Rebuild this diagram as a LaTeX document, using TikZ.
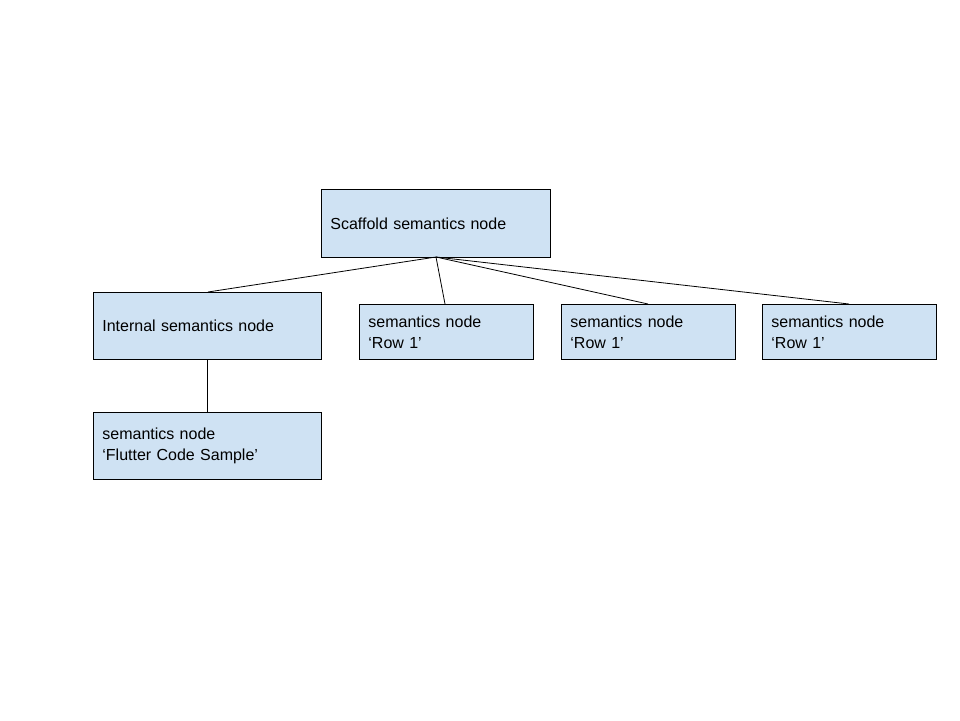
\documentclass[tikz,border=0pt]{standalone}
\usepackage{fontspec}
\setmainfont{Liberation Sans}
\begin{document}
\begin{tikzpicture}[x=1pt,y=-1pt,
  box/.style={draw=black,fill=boxblue,line width=0.8pt,anchor=north west,inner xsep=9pt,inner ysep=0pt,align=left,font=\fontsize{16}{21}\selectfont},
  link/.style={draw=black,line width=0.8pt}]
\definecolor{boxblue}{HTML}{CFE2F3}
\useasboundingbox (0,0) rectangle (960,720);
\node[box,text width=211pt,minimum height=68pt] (s) at (321,189) {Scaffold semantics node};
\node[box,text width=210pt,minimum height=67pt] (i) at (93,292) {Internal semantics node};
\node[box,text width=156pt,minimum height=55pt] (r1) at (359,304) {semantics node\\‘Row 1’};
\node[box,text width=156pt,minimum height=55pt] (r2) at (561,304) {semantics node\\‘Row 1’};
\node[box,text width=156pt,minimum height=55pt] (r3) at (762,304) {semantics node\\‘Row 1’};
\node[box,text width=210pt,minimum height=67pt] (f) at (93,412) {semantics node\\‘Flutter Code Sample’};
\coordinate (sb) at (436,257);
\draw[link] (sb) -- (208,292);
\draw[link] (sb) -- (445,304);
\draw[link] (sb) -- (648,304);
\draw[link] (sb) -- (849,304);
\draw[link] (207,359) -- (207,412);
\end{tikzpicture}
\end{document}
